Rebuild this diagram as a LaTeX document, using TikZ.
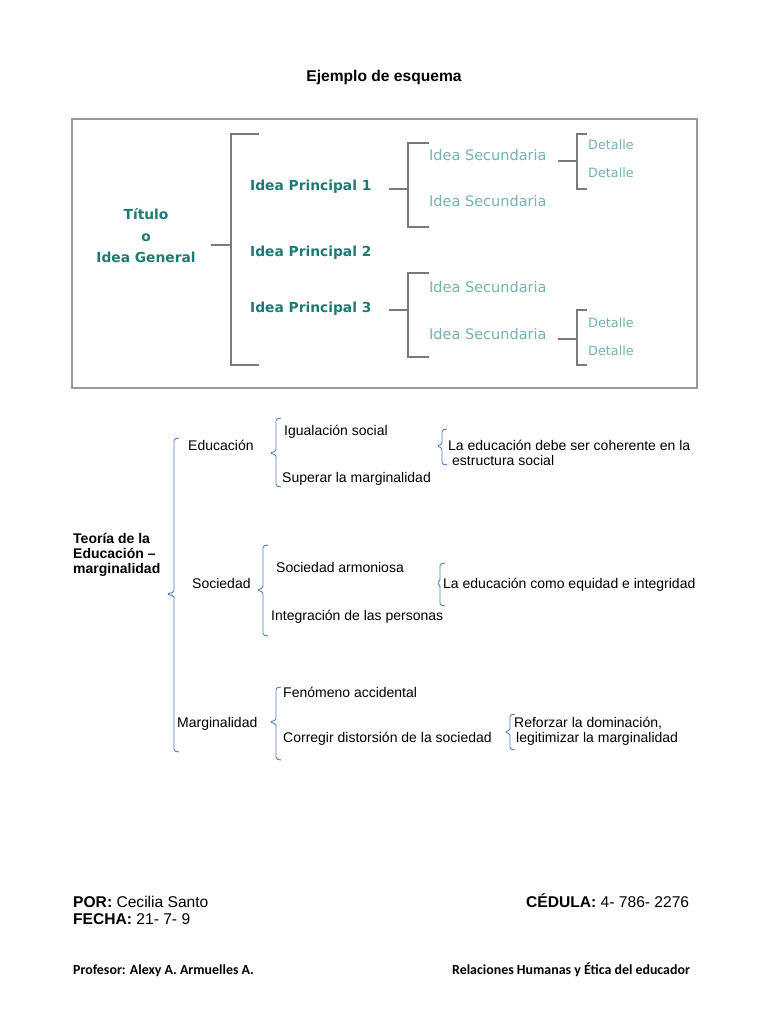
\documentclass[tikz,border=0pt]{standalone}
\usepackage{fontspec}
\setmainfont{Liberation Sans}
\newfontfamily\piefont{Carlito}
\newfontfamily\demofont{DejaVu Sans}
\usetikzlibrary{positioning}
\definecolor{llaveazul}{HTML}{4F81BD}
\definecolor{tealoscuro}{HTML}{1F7A74}
\definecolor{tealclaro}{HTML}{74B3AE}
\definecolor{lineagris}{HTML}{7A7A7A}
\tikzset{
  txt/.style={anchor=base west,inner sep=0pt,font=\fontsize{14}{16}\selectfont},
  txtb/.style={txt,font=\fontsize{14}{16}\selectfont\bfseries},
  dato/.style={anchor=base west,inner sep=0pt,font=\fontsize{15.6}{18}\selectfont},
  pie/.style={anchor=base west,inner sep=0pt,font=\fontsize{13.9}{16}\selectfont\piefont\bfseries},
  titulo/.style={anchor=base,inner sep=0pt,text=tealoscuro,font=\fontsize{13.8}{16}\selectfont\demofont\bfseries},
  principal/.style={anchor=base west,inner sep=0pt,text=tealoscuro,font=\fontsize{13.8}{15}\selectfont\demofont\bfseries},
  secundaria/.style={anchor=base west,inner sep=0pt,text=tealclaro,font=\fontsize{14.5}{16}\selectfont\demofont},
  detalle/.style={anchor=base west,inner sep=0pt,text=tealclaro,font=\fontsize{12.8}{14}\selectfont\demofont},
  gris/.style={draw=lineagris,line width=1.6pt},
  azul/.style={draw=llaveazul,line width=0.9pt,rounded corners=1.5pt}
}
% llave azul: x, arriba, medio, abajo, inicio del trazo
\newcommand{\llave}[5]{%
  \draw[azul] (#1+5,#2) -- (#1,#2+1) -- (#1,#3-2) -- (#5,#3) -- (#1,#3+2) -- (#1,#4-1) -- (#1+5,#4);}
% corchete gris: x, arriba, medio, abajo, inicio, fin
\newcommand{\corchete}[6]{%
  \draw[gris] (#6,#2) -- (#1,#2) -- (#1,#4) -- (#6,#4);
  \draw[gris] (#5,#3) -- (#1,#3);}

\begin{document}
\begin{tikzpicture}[x=1pt,y=-1pt]
  \useasboundingbox[fill=white] (0,0) rectangle (768,1024);

  \node[anchor=base,inner sep=0pt,font=\fontsize{15.6}{18}\selectfont\bfseries] (ejemplo) at (384,82) {Ejemplo de esquema};

  % esquema de ejemplo
  \draw[draw=gray!80,line width=1.5pt] (72,119) rectangle (697,388);
  \node[titulo] (tit) at (146,219) {Título};
  \node[titulo] (tito) at (146,241) {o};
  \node[titulo] (gen) at (146,262) {Idea General};
  \corchete{231}{134}{245}{365}{211}{259}
  \node[principal] (ip1) at (250,191) {Idea Principal 1};
  \node[principal] (ip2) at (250,256) {Idea Principal 2};
  \node[principal] (ip3) at (250,312) {Idea Principal 3};
  \corchete{408}{143}{189}{227}{389}{429}
  \node[secundaria] (is1) at (429,161) {Idea Secundaria};
  \node[secundaria] (is2) at (429,207) {Idea Secundaria};
  \corchete{408}{273}{310}{357}{389}{429}
  \node[secundaria] (is3) at (429,292) {Idea Secundaria};
  \node[secundaria] (is4) at (429,339) {Idea Secundaria};
  \corchete{577}{134}{161}{189}{558}{587}
  \node[detalle] (d1) at (588,150) {Detalle};
  \node[detalle] (d2) at (588,178) {Detalle};
  \corchete{577}{310}{339}{365}{558}{587}
  \node[detalle] (d3) at (588,327) {Detalle};
  \node[detalle] (d4) at (588,355) {Detalle};

  % esquema de la teoria
  \node[txtb] (teo1) at (73,543) {Teoría de la};
  \node[txtb] (teo2) at (73,558) {Educación –};
  \node[txtb] (teo3) at (73,573) {marginalidad};
  \llave{174}{438}{594}{752}{167}

  \node[txt] (edu) at (188,450) {Educación};
  \llave{276}{418}{453}{487}{270}
  \node[txt] (igu) at (284,435) {Igualación social};
  \node[txt] (sup) at (282,482) {Superar la marginalidad};
  \llave{442}{429}{446}{465}{437}
  \node[txt] (coh1) at (448,450) {La educación debe ser coherente en la};
  \node[txt] (coh2) at (452,465) {estructura social};

  \node[txt] (soc) at (192,588) {Sociedad};
  \llave{263}{545}{590}{636}{257}
  \node[txt] (arm) at (276,572) {Sociedad armoniosa};
  \node[txt] (int) at (271,620) {Integración de las personas};
  \llave{440}{563}{583}{606}{437}
  \node[txt] (equ) at (443,588) {La educación como equidad e integridad};

  \node[txt] (mar) at (177,727) {Marginalidad};
  \llave{276}{687}{722}{760}{270}
  \node[txt] (fen) at (283,697) {Fenómeno accidental};
  \node[txt] (cor) at (283,742) {Corregir distorsión de la sociedad};
  \llave{510}{714}{732}{750}{505}
  \node[txt] (ref1) at (514,727) {Reforzar la dominación,};
  \node[txt] (ref2) at (516,742) {legitimizar la marginalidad};

  % datos
  \node[dato] (por) at (73,907) {\textbf{POR:} Cecilia Santo};
  \node[dato] (fec) at (73,924) {\textbf{FECHA:} 21- 7- 9};
  \node[dato] (ced) at (526,907) {\textbf{CÉDULA:} 4- 786- 2276};
  \node[pie] (prof) at (73,974) {Profesor: Alexy A. Armuelles A.};
  \node[pie] (mat) at (452,974) {Relaciones Humanas y Ética del educador};
\end{tikzpicture}
\end{document}
